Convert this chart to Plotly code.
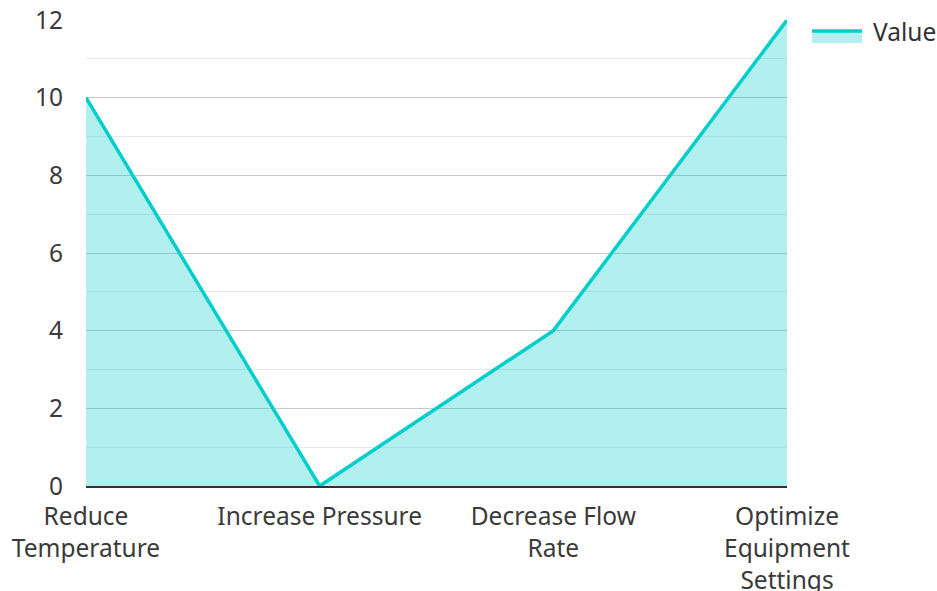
import plotly.graph_objects as go

categories = ["Reduce<br>Temperature", "Increase Pressure", "Decrease Flow<br>Rate",
              "Optimize<br>Equipment<br>Settings"]
values = [10, 0, 4, 12]
series_name = "Value"

y_ticks = [0, 2, 4, 6, 8, 10, 12]

LINE_COLOR = "#00cecb"
FILL_COLOR = "rgba(0,206,203,0.30)"
TEXT_COLOR = "#3a3a3a"

fig = go.Figure()
fig.add_trace(go.Scatter(
    x=list(range(len(categories))),
    y=values,
    name=series_name,
    mode="lines",
    line=dict(color=LINE_COLOR, width=3.5),
    fill="tozeroy",
    fillcolor=FILL_COLOR,
    showlegend=False,
))

# Legend key drawn beside the plot: filled swatch with the line on top
fig.add_shape(type="rect", xref="paper", yref="paper",
              x0=1.0357, x1=1.107, y0=0.9506, y1=0.9764,
              fillcolor=FILL_COLOR, line=dict(width=0), layer="above")
fig.add_shape(type="line", xref="paper", yref="paper",
              x0=1.0357, x1=1.107, y0=0.9764, y1=0.9764,
              line=dict(color=LINE_COLOR, width=3.5), layer="above")
fig.add_annotation(text=series_name, xref="paper", yref="paper",
                   x=1.1198, y=0.976, xanchor="left", yanchor="middle",
                   showarrow=False, font=dict(size=24.5, color="#333333"))

fig.update_layout(
    width=937, height=591,
    margin=dict(l=86, r=150, t=20, b=105, autoexpand=False),
    paper_bgcolor="white",
    plot_bgcolor="white",
    font=dict(family="Noto Sans", size=24.5, color=TEXT_COLOR),
    showlegend=False,
    xaxis=dict(
        tickmode="array",
        tickvals=list(range(len(categories))),
        ticktext=categories,
        range=[0, len(categories) - 1],
        showgrid=False,
        zeroline=False,
        showline=True,
        linecolor="#333333",
        linewidth=2,
        ticks="",
        ticklabelstandoff=8,
        automargin=False,
    ),
    yaxis=dict(
        range=[0, 12],
        tickmode="array",
        tickvals=y_ticks,
        showgrid=True,
        gridcolor="#c8c8c8",
        gridwidth=1,
        zeroline=False,
        showline=False,
        ticks="",
        ticklabelstandoff=22,
        automargin=False,
        minor=dict(dtick=1, showgrid=True, gridcolor="#e8e8e8", gridwidth=1),
    ),
)

fig.write_html("out.html")
